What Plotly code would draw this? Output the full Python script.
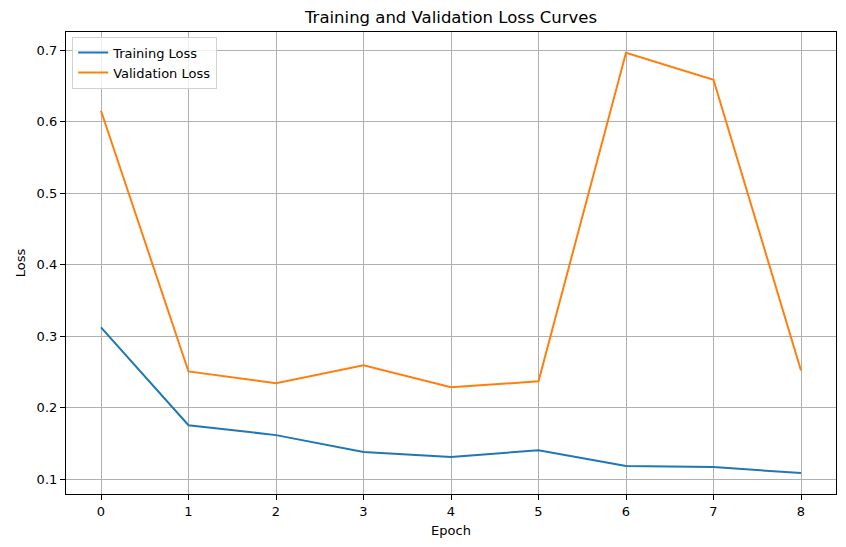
import plotly.graph_objects as go

epochs = [0, 1, 2, 3, 4, 5, 6, 7, 8]
train_loss = [0.3125, 0.1758, 0.1619, 0.1382, 0.1313, 0.1409, 0.1186, 0.1172, 0.1088]
val_loss = [0.6153, 0.2509, 0.2343, 0.2594, 0.2288, 0.2371, 0.6963, 0.6586, 0.2523]
x_ticks = [0, 1, 2, 3, 4, 5, 6, 7, 8]
y_ticks = [0.1, 0.2, 0.3, 0.4, 0.5, 0.6, 0.7]

fig = go.Figure()
fig.add_trace(go.Scatter(x=epochs, y=train_loss, mode="lines", name="Training Loss",
                         line=dict(color="#1f77b4", width=2)))
fig.add_trace(go.Scatter(x=epochs, y=val_loss, mode="lines", name="Validation Loss",
                         line=dict(color="#ff7f0e", width=2)))

axis_common = dict(showline=True, linecolor="black", linewidth=1.2, mirror=True,
                   showgrid=True, gridcolor="#b0b0b0", gridwidth=1,
                   ticks="outside", ticklen=5, tickcolor="black", zeroline=False,
                   tickfont=dict(size=13, color="black"))

fig.update_layout(
    width=846, height=547,
    margin=dict(l=53, r=18, t=24, b=61),
    paper_bgcolor="white", plot_bgcolor="white",
    font=dict(family="DejaVu Sans", color="black"),
    title=dict(text="Training and Validation Loss Curves", x=0.5, xanchor="center",
               xref="paper", y=0.983, yanchor="middle", font=dict(size=16.5, color="black")),
    xaxis=dict(range=[-0.4, 8.4], tickvals=x_ticks,
               title=dict(text="Epoch", font=dict(size=13), standoff=8), **axis_common),
    yaxis=dict(range=[0.0796, 0.7254], tickvals=y_ticks, ticktext=[str(v) for v in y_ticks],
               title=dict(text="Loss", font=dict(size=13), standoff=8), **axis_common),
    legend=dict(x=0.008, y=0.99, xanchor="left", yanchor="top",
                bgcolor="rgba(255,255,255,0.8)", bordercolor="#d0d0d0", borderwidth=1,
                font=dict(size=13, color="black"), itemwidth=30),
    showlegend=True,
)

fig.write_html("out.html")
